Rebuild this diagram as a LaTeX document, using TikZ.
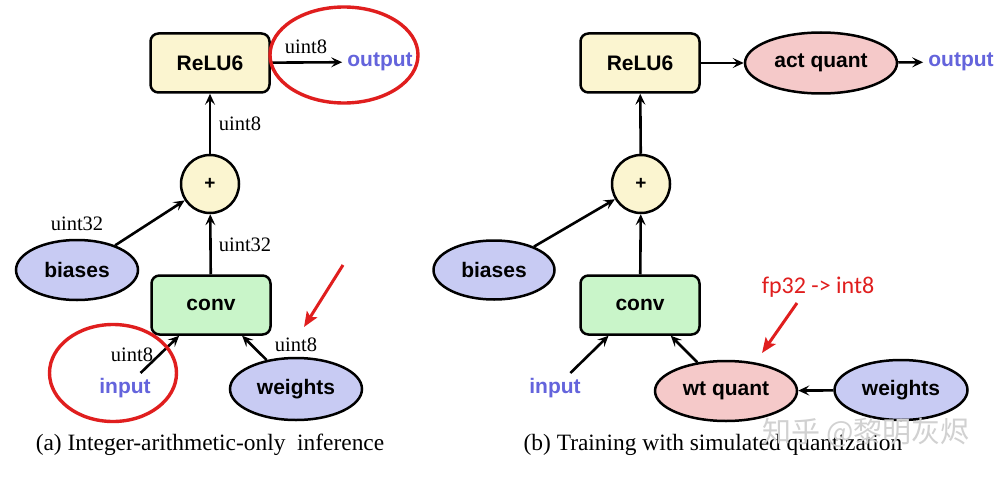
\documentclass[tikz,border=0pt]{standalone}
\usepackage{fontspec}
\setmainfont{Liberation Serif}
\setsansfont{Liberation Sans}
\newfontfamily\calfont{Carlito}
\newfontfamily\cjkfont{Noto Sans CJK SC}
\usetikzlibrary{arrows.meta,shapes.geometric}
\definecolor{boxyellow}{HTML}{FBF5D0}
\definecolor{boxgreen}{HTML}{C9F5C9}
\definecolor{ellblue}{HTML}{C8CBF3}
\definecolor{ellpink}{HTML}{F5C9C9}
\definecolor{txtblue}{HTML}{6464DC}
\definecolor{annred}{HTML}{E01E1E}
\tikzset{
  opbox/.style={draw, line width=2.5pt, rounded corners=8pt, minimum width=119pt, minimum height=59pt, inner sep=0pt,
    font=\sffamily\bfseries\fontsize{21}{25}\selectfont},
  opcirc/.style={draw, circle, line width=2.5pt, fill=boxyellow, minimum size=58pt, inner sep=0pt,
    font=\sffamily\bfseries\fontsize{19}{22}\selectfont},
  dataell/.style={draw, ellipse, line width=2.5pt, inner sep=0pt,
    font=\sffamily\bfseries\fontsize{21}{25}\selectfont},
  iotext/.style={text=txtblue, inner sep=5pt, font=\sffamily\bfseries\fontsize{21}{25}\selectfont},
  lbl/.style={inner sep=0pt, font=\fontsize{20.5}{24}\selectfont},
  captxt/.style={inner sep=0pt, font=\fontsize{23.4}{27}\selectfont},
  arr/.style={line width=2.6pt, -{Stealth[length=11pt,width=10pt,inset=4.5pt]}},
  ring/.style={draw=annred, ellipse, line width=3.4pt, inner sep=0pt},
  redarr/.style={draw=annred, line width=3pt, -{Stealth[length=15pt,width=12pt,inset=3pt]}},
  annot/.style={text=annred, inner sep=0pt, font=\calfont\fontsize{24}{28}\selectfont},
  wmark/.style={text=black!18, inner sep=0pt, font=\cjkfont\fontsize{29}{33}\selectfont}
}
\begin{document}
\begin{tikzpicture}[x=1pt,y=-1pt]
\useasboundingbox[fill=white] (0,0) rectangle (1000,476);
% ---------- (a) ----------
\node[opbox, fill=boxyellow] (reluA) at (210,63) {ReLU6};
\node[iotext] (outA) at (380,62) {output};
\node[opcirc] (plusA) at (210,184) {+};
\node[opbox, fill=boxgreen] (convA) at (211,305) {conv};
\node[dataell, fill=ellblue, minimum width=122pt, minimum height=60pt] (biasA) at (77,270) {biases};
\node[iotext] (inA) at (125,388) {input};
\node[dataell, fill=ellblue, minimum width=132pt, minimum height=62pt] (wA) at (296,389) {weights};

\draw[arr] (reluA) -- (outA);
\draw[arr] (plusA) -- (reluA);
\draw[arr] (convA) -- (plusA);
\draw[arr] (biasA) -- (plusA);
\draw[arr] (inA) -- (convA);
\draw[arr] (wA) -- (convA);

\node[lbl] (l1) at (306,47) {uint8};
\node[lbl] (l2) at (240,124) {uint8};
\node[lbl] (l3) at (245,245) {uint32};
\node[lbl] (l4) at (77,224) {uint32};
\node[lbl] (l5) at (132,355) {uint8};
\node[lbl] (l6) at (296,345) {uint8};

\node[ring, minimum width=148pt, minimum height=96pt] (ringOut) at (344,55) {};
\node[ring, minimum width=127pt, minimum height=97pt] (ringIn) at (113,373) {};
\coordinate (ra1) at (343,265);
\coordinate (ra2) at (304,327);
\draw[redarr] (ra1) -- (ra2);

\node[captxt] (capA) at (210,445) {(a) Integer-arithmetic-only\ \ inference};

% ---------- (b) ----------
\node[opbox, fill=boxyellow] (reluB) at (640,63) {ReLU6};
\node[dataell, fill=ellpink, minimum width=152pt, minimum height=61pt] (actq) at (821,63) {act quant};
\node[iotext] (outB) at (961,62) {output};
\node[opcirc] (plusB) at (641,184) {+};
\node[opbox, fill=boxgreen] (convB) at (640,305) {conv};
\node[dataell, fill=ellblue, minimum width=121pt, minimum height=59pt] (biasB) at (494,270) {biases};
\node[iotext] (inB) at (555,388) {input};
\node[dataell, fill=ellpink, minimum width=142pt, minimum height=60pt] (wtq) at (726,391) {wt quant};
\node[dataell, fill=ellblue, minimum width=133pt, minimum height=60pt] (wB) at (901,390) {weights};

\draw[arr] (reluB) -- (actq);
\draw[arr] (actq) -- (outB);
\draw[arr] (plusB) -- (reluB);
\draw[arr] (convB) -- (plusB);
\draw[arr] (biasB) -- (plusB);
\draw[arr] (inB) -- (convB);
\draw[arr] (wtq) -- (convB);
\draw[arr] (wB) -- (wtq);

\node[annot] (fp) at (818,287) {fp32 -> int8};
\coordinate (rb1) at (797,303);
\coordinate (rb2) at (762,353);
\draw[redarr] (rb1) -- (rb2);

\node[captxt] (capB) at (713,445) {(b) Training with simulated quantization};
\node[wmark] (wm) at (866,433) {知乎 @黎明灰烬};
\end{tikzpicture}
\end{document}
